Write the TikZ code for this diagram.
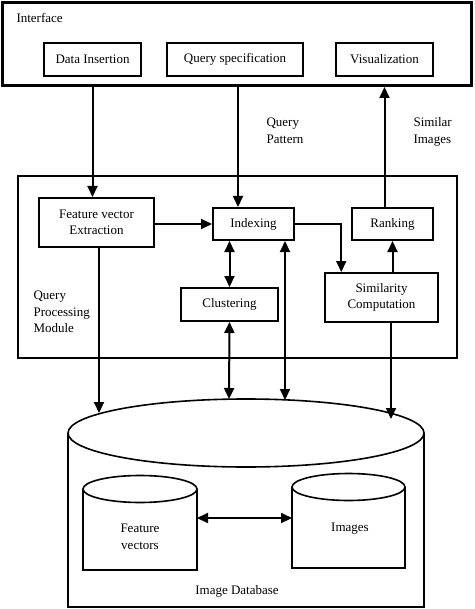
\documentclass[tikz,border=0pt]{standalone}
\usepackage{fontspec}
\setmainfont{Liberation Serif}
\usetikzlibrary{arrows.meta, positioning, calc}

\tikzset{
  box/.style={draw, line width=2pt, inner sep=0pt, align=center},
  arr/.style={line width=2pt, -{Triangle[length=11pt,width=10pt]}},
  darr/.style={line width=2pt, {Triangle[length=11pt,width=10pt]}-{Triangle[length=11pt,width=10pt]}},
  cyl/.style={line width=1.6pt},
}

\begin{document}
\begin{tikzpicture}[x=1pt, y=-1pt, font=\fontsize{13}{16.5}\selectfont]
\useasboundingbox (0,0) rectangle (474,609);

% Interface
\node[box, line width=3pt, minimum width=469pt, minimum height=83pt] (iface) at (237,44) {};
\node[anchor=west] (ifacelbl) at (13,18) {Interface};
\node[box, minimum width=97pt, minimum height=33pt] (datains) at (92.5,59.5) {Data Insertion};
\node[box, minimum width=136pt, minimum height=33pt] (qspec) at (235,59.5) {Query specification};
\node[box, minimum width=97pt, minimum height=33pt] (visual) at (384.5,59.5) {Visualization};

% Query processing module
\node[box, line width=1.6pt, minimum width=439pt, minimum height=182pt] (qpm) at (237.5,267) {};
\node[anchor=west, align=left] (qpmlbl) at (30,312) {Query\\Processing\\Module};
\node[box, minimum width=115pt, minimum height=49pt] (fve) at (96.5,222.5) {Feature vector\\Extraction};
\node[box, minimum width=81pt, minimum height=32pt] (idx) at (253.5,224) {Indexing};
\node[box, minimum width=81pt, minimum height=32pt] (rank) at (392.5,224) {Ranking};
\node[box, minimum width=97pt, minimum height=33pt] (clus) at (229.5,304.5) {Clustering};
\node[box, minimum width=113pt, minimum height=49pt] (simc) at (381.5,297.5) {Similarity\\Computation};

\node[anchor=west, align=left] (qpat) at (263,131) {Query\\Pattern};
\node[anchor=west, align=left] (simimg) at (410,132) {Similar\\Images};

% Image database
\draw[cyl] (68,433) -- (68,607) -- (424,607) -- (424,433);
\draw[cyl, fill=white] (246,433) ellipse [x radius=178, y radius=34];
\draw[cyl] (83,489) -- (83,570) -- (197,570) -- (197,489);
\draw[cyl] (140,489) ellipse [x radius=57, y radius=13.5];
\draw[cyl] (292,487) -- (292,568) -- (405,568) -- (405,487);
\draw[cyl] (348.5,487) ellipse [x radius=56.5, y radius=13.5];
\node[align=center] (fvtxt) at (140,537) {Feature\\vectors};
\node (imgtxt) at (350,529) {Images};
\node (dblbl) at (237,591) {Image Database};

\coordinate (qx) at (238,0);
\coordinate (dbA) at (99,413);
\coordinate (dbB) at (229,399);
\coordinate (dbC) at (285,400);
\coordinate (dbD) at (391,419);
\coordinate (fvR) at (197,518);
\coordinate (imL) at (292,518);

% arrows
\draw[arr] (datains |- iface.south) -- (datains |- fve.north);
\draw[arr] (qx |- iface.south) -- (qx |- idx.north);
\draw[arr] (visual |- rank.north) -- (visual |- iface.south);
\draw[arr] (fve.east |- idx.west) -- (idx.west);
\draw[arr] (idx.east) -| ($(simc.north west)!0.15!(simc.north east)$);
\draw[arr] (rank.south |- simc.north) -- (rank.south);
\draw[darr] (clus.north) -- (clus.north |- idx.south);
\draw[darr] (clus.south) -- (dbB);
\draw[darr] (idx.south -| dbC) -- (dbC);
\draw[arr] (fve.south -| dbA) -- (dbA);
\draw[arr] (simc.south -| dbD) -- (dbD);
\draw[darr] (fvR) -- (imL);
\end{tikzpicture}
\end{document}
